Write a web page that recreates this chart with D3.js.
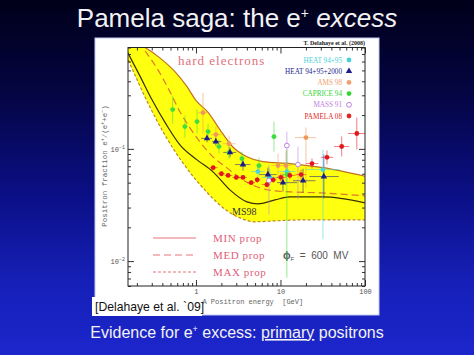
<!DOCTYPE html>
<html><head><meta charset="utf-8">
<script src="https://cdn.jsdelivr.net/npm/d3@7"></script>
<style>html,body{margin:0;padding:0;overflow:hidden;background:#000}</style>
</head><body>
<svg id="c" width="474" height="355"></svg>
<script>
// ---------- data ----------
const xTickMajor = [1, 10, 100];
const xTickLabels = ["1", "10", "100"];
const yTickMajor = [0.01, 0.1];
const yTickLabels = ["−2", "−1"];

// band edges and model curves (E in GeV, positron fraction)
const bandUpperE = [0.15, 0.25, 0.37, 0.56, 0.78, 1.0, 1.4, 1.9, 2.7, 4.0, 6.2, 13, 32, 100];
const bandUpperF = [0.95, 0.80, 0.65, 0.49, 0.36, 0.27, 0.21, 0.15, 0.105, 0.085, 0.077, 0.074, 0.068, 0.057];
const bandLowerE = [0.15, 0.29, 0.45, 0.7, 1.35, 2.2, 3.3, 5, 8.2, 20, 100];
const bandLowerF = [0.68, 0.23, 0.125, 0.075, 0.041, 0.029, 0.0243, 0.0224, 0.0228, 0.0233, 0.0233];
const medE = [0.15, 0.236, 0.355, 0.493, 0.646, 0.849, 1.115, 1.59, 2.33, 3.6, 5.72, 8.6, 12.9, 29.3, 100];
const medF = [1.3, 0.794, 0.506, 0.322, 0.214, 0.154, 0.1155, 0.0849, 0.0677, 0.0529, 0.0449, 0.0422, 0.0414, 0.0405, 0.0381];
const ms98E = [0.15, 0.217, 0.302, 0.441, 0.646, 1.03, 1.59, 2.52, 4.01, 5.41, 8.6, 12.9, 31.8, 100];
const ms98F = [0.762, 0.447, 0.2735, 0.167, 0.1086, 0.0798, 0.0624, 0.0431, 0.0337, 0.0324, 0.0351, 0.0373, 0.0373, 0.033];

// PAMELA 08
const pamE   = [1.6, 2.0, 2.4, 3.0, 3.6, 4.5, 5.3, 6.9, 8.2, 10.1, 12.9, 17.5, 23.6, 35.5, 53, 80];
const pamF   = [0.068, 0.060, 0.058, 0.0556, 0.0556, 0.050, 0.053, 0.048, 0.053, 0.0556, 0.058, 0.059, 0.074, 0.084, 0.105, 0.137];
const pamLo  = [0.0653, 0.0576, 0.0557, 0.0534, 0.0534, 0.048, 0.0499, 0.0452, 0.0499, 0.0512, 0.0535, 0.0532, 0.0668, 0.0728, 0.0856, 0.0987];
const pamHi  = [0.0709, 0.0625, 0.0604, 0.0579, 0.0579, 0.0521, 0.0563, 0.0510, 0.0563, 0.0603, 0.0629, 0.0654, 0.082, 0.097, 0.129, 0.190];
const pamELo = [1.45, 1.8, 2.2, 2.7, 3.3, 4.0, 5.0, 6.0, 7.5, 9.0, 11.5, 15, 20, 30, 43, 63];
const pamEHi = [1.8, 2.2, 2.7, 3.3, 4.0, 5.0, 5.8, 7.5, 9.0, 11.5, 15, 20, 28, 42, 65, 100];

// HEAT 94+95+2000
const heat2E   = [1.35, 1.72, 2.53, 3.6, 7.1, 10.7, 18.5, 32.6];
const heat2F   = [0.124, 0.116, 0.093, 0.0725, 0.059, 0.050, 0.052, 0.0567];
const heat2Lo  = [0.1143, 0.1069, 0.0839, 0.0641, 0.0511, 0.0416, 0.0407, 0.0361];
const heat2Hi  = [0.1345, 0.1259, 0.1030, 0.0820, 0.0681, 0.0602, 0.0665, 0.0890];
const heat2ELo = [1.15, 1.55, 2.1, 2.9, 5.6, 9.1, 14, 22];
const heat2EHi = [1.55, 2.0, 3.0, 4.4, 9.0, 15.7, 26, 49];

// HEAT 94+95
const heat1E   = [5.4, 7.5, 11.9, 31.8];
const heat1F   = [0.0628, 0.0556, 0.0628, 0.0654];
const heat1Lo  = [0.0553, 0.0470, 0.0511, 0.0156];
const heat1Hi  = [0.0713, 0.0658, 0.0772, 0.0984];
const heat1ELo = [4.5, 6.0, 9.5, 20];
const heat1EHi = [6.5, 9.5, 15, 50];

// AMS 98
const amsE   = [1.21, 1.72, 2.46, 9.35, 11.6, 20.0];
const amsF   = [0.210, 0.134, 0.111, 0.071, 0.071, 0.126];
const amsLo  = [0.136, 0.114, 0.0942, 0.0555, 0.0522, 0.0452];
const amsHi  = [0.316, 0.158, 0.131, 0.0908, 0.0966, 0.155];
const amsELo = [1.05, 1.5, 2.05, 8.0, 10.0, 14.8];
const amsEHi = [1.4, 2.0, 2.95, 10.8, 13.5, 26.3];

// CAPRICE 94
const capE   = [0.53, 0.74, 1.03, 1.39, 1.87, 2.46, 3.5, 5.57, 8.38, 11.9];
const capF   = [0.224, 0.158, 0.175, 0.1425, 0.1048, 0.0927, 0.082, 0.071, 0.1285, 0.059];
const capLo  = [0.168, 0.126, 0.137, 0.121, 0.0908, 0.082, 0.0711, 0.0603, 0.0945, 0.0071];
const capHi  = [0.298, 0.198, 0.224, 0.168, 0.121, 0.1048, 0.0946, 0.0836, 0.175, 0.0985];
const capELo = [0.5, 0.7, 0.97, 1.3, 1.75, 2.3, 3.3, 5.2, 7.8, 11];
const capEHi = [0.57, 0.79, 1.1, 1.5, 2.0, 2.65, 3.75, 6.0, 9.0, 13];

// MASS 91
const massE   = [7.3, 11.9, 16.1];
const massF   = [0.0522, 0.107, 0.0725];
const massLo  = [0.026, 0.059, 0.0354];
const massHi  = [0.0725, 0.1426, 0.1048];
const massELo = [7.3, 11.9, 16.1];
const massEHi = [7.3, 11.9, 16.1];

const legendNames = ["HEAT 94+95", "HEAT 94+95+2000", "AMS 98", "CAPRICE 94", "MASS 91", "PAMELA 08"];
const propNames = ["MIN prop", "MED prop", "MAX prop"];

// ---------- drawing ----------
const svg = d3.select("#c");
const defs = svg.append("defs");
const grad = defs.append("linearGradient").attr("id", "bg").attr("x1", 0).attr("y1", 0).attr("x2", 0).attr("y2", 1);
[[0, "#00001a"], [0.25, "#040440"], [0.55, "#0b0f86"], [0.8, "#1620b8"], [1, "#1c26cc"]]
  .forEach(s => grad.append("stop").attr("offset", s[0]).attr("stop-color", s[1]));
svg.append("rect").attr("width", 474).attr("height", 355).attr("fill", "url(#bg)");

const SANS = "Liberation Sans, Arial, sans-serif";
const SERIF = "Liberation Serif, Times New Roman, serif";
const MONO = "Liberation Mono, Courier New, monospace";

// title
const title = svg.append("text").attr("x", 237).attr("y", 27).attr("text-anchor", "middle")
  .attr("fill", "#f2f2f2").style("font-family", SANS).style("font-size", "26px").style("white-space", "pre");
title.append("tspan").text("Pamela saga: the e");
title.append("tspan").attr("dy", -9).style("font-size", "14px").text("+");
title.append("tspan").attr("dy", 9).style("font-style", "italic").text(" excess");

// white panel
svg.append("rect").attr("x", 95).attr("y", 38).attr("width", 284).attr("height", 277)
  .attr("fill", "#fff").attr("stroke", "#c4c8f0").attr("stroke-width", 1);

const L = 128, R = 365, T = 47.5, B = 286;
const x = d3.scaleLog().domain([0.157, 100]).range([L, R]);
const y = d3.scaleLog().domain([0.006, 0.8]).range([B, T]);

defs.append("clipPath").attr("id", "clip").append("rect")
  .attr("x", L).attr("y", T).attr("width", R - L).attr("height", B - T);
const g = svg.append("g").attr("clip-path", "url(#clip)");

const line = d3.line().curve(d3.curveMonotoneX);
const pts = (E, F) => E.map((e, i) => [x(e), y(F[i])]);

// band
const up = pts(bandUpperE, bandUpperF);
const lo = pts(bandLowerE, bandLowerF).reverse();
const loPath = d3.line().curve(d3.curveMonotoneX)(lo);
g.append("path").attr("d", line(up) + loPath.replace(/^M/, "L") + "Z")
  .attr("fill", "#ffff10").attr("stroke", "none");

// curves
g.append("path").attr("d", line(up)).attr("fill", "none").attr("stroke", "#c0721c").attr("stroke-width", 1.2);
g.append("path").attr("d", line(pts(bandLowerE, bandLowerF))).attr("fill", "none")
  .attr("stroke", "#c08a18").attr("stroke-width", 1.2).attr("stroke-dasharray", "3,2");
g.append("path").attr("d", line(pts(medE, medF))).attr("fill", "none")
  .attr("stroke", "#e2762a").attr("stroke-width", 1.2).attr("stroke-dasharray", "7,4");
g.append("path").attr("d", line(pts(ms98E, ms98F))).attr("fill", "none")
  .attr("stroke", "#3a3000").attr("stroke-width", 1.2);

// text inside plot
g.append("text").attr("x", 178).attr("y", 65).attr("fill", "#e0707c")
  .style("font-family", SERIF).style("font-size", "13px").style("letter-spacing", "1px").text("hard electrons");
g.append("text").attr("x", 232).attr("y", 215).attr("fill", "#333")
  .style("font-family", SERIF).style("font-size", "10px").text("MS98");

const phi = g.append("text").attr("x", 283).attr("y", 259).attr("fill", "#555")
  .style("font-family", SANS).style("font-size", "10px").style("white-space", "pre");
phi.append("tspan").style("font-weight", "bold").text("ϕ");
phi.append("tspan").attr("dy", 2).style("font-size", "6px").text("F");
phi.append("tspan").attr("dy", -2).text("  =  600  MV");

// prop legend
const propDash = [null, "7,4", "3,2"];
propNames.forEach((n, i) => {
  const yy = 238 + i * 17;
  g.append("line").attr("x1", 153).attr("x2", 196).attr("y1", yy).attr("y2", yy)
    .attr("stroke", "#e8707c").attr("stroke-width", 1).attr("stroke-dasharray", propDash[i]);
  g.append("text").attr("x", 213).attr("y", yy + 4).attr("fill", "#e0607a")
    .style("font-family", SERIF).style("font-size", "11px").style("letter-spacing", "0.6px").text(n);
});

// data series
const series = [
  {E: heat1E, F: heat1F, lo: heat1Lo, hi: heat1Hi, eL: heat1ELo, eH: heat1EHi, col: "#48d4e0", sym: "circle"},
  {E: massE, F: massF, lo: massLo, hi: massHi, eL: massELo, eH: massEHi, col: "#c07ee0", sym: "open"},
  {E: amsE, F: amsF, lo: amsLo, hi: amsHi, eL: amsELo, eH: amsEHi, col: "#f0985a", sym: "circle"},
  {E: capE, F: capF, lo: capLo, hi: capHi, eL: capELo, eH: capEHi, col: "#3ede3e", sym: "circle"},
  {E: heat2E, F: heat2F, lo: heat2Lo, hi: heat2Hi, eL: heat2ELo, eH: heat2EHi, col: "#1c1c8c", sym: "tri"},
  {E: pamE, F: pamF, lo: pamLo, hi: pamHi, eL: pamELo, eH: pamEHi, col: "#e2161e", sym: "circle"}
];
series.forEach(s => {
  const eg = g.append("g").attr("stroke", s.col).attr("stroke-width", 1).attr("opacity", 0.55);
  s.E.forEach((e, i) => {
    eg.append("line").attr("x1", x(e)).attr("x2", x(e)).attr("y1", y(s.lo[i])).attr("y2", y(s.hi[i]));
    eg.append("line").attr("x1", x(s.eL[i])).attr("x2", x(s.eH[i])).attr("y1", y(s.F[i])).attr("y2", y(s.F[i]));
  });
});
const drawSym = (sel, sym, col, cx, cy) => {
  if (sym === "tri") {
    sel.append("path").attr("d", d3.symbol().type(d3.symbolTriangle).size(18)())
      .attr("transform", `translate(${cx},${cy})`).attr("fill", col);
  } else if (sym === "open") {
    sel.append("circle").attr("cx", cx).attr("cy", cy).attr("r", 2.4).attr("fill", "#fff").attr("stroke", col).attr("stroke-width", 1);
  } else {
    sel.append("circle").attr("cx", cx).attr("cy", cy).attr("r", 2.4).attr("fill", col);
  }
};
series.forEach(s => s.E.forEach((e, i) => drawSym(g, s.sym, s.col, x(e), y(s.F[i]))));

// data legend (top right)
const legCols = ["#48d0d8", "#1c1c8c", "#f0a070", "#34d434", "#c07ee0", "#e02828"];
const legSyms = ["circle", "tri", "circle", "circle", "open", "circle"];
legendNames.forEach((n, i) => {
  const yy = 60 + i * 11.2;
  g.append("text").attr("x", 342).attr("y", yy + 2.5).attr("text-anchor", "end").attr("fill", legCols[i])
    .style("font-family", SERIF).style("font-size", "7.2px").text(n);
  drawSym(g, legSyms[i], legCols[i], 349, yy);
});
svg.append("text").attr("x", 365).attr("y", 45).attr("text-anchor", "end").attr("fill", "#222")
  .style("font-family", SERIF).style("font-size", "6px").style("font-weight", "bold").text("T. Delahaye et al. (2008)");

// axes (inward ticks)
const minorX = [];
[0.1, 1, 10].forEach(d => { for (let k = 2; k <= 9; k++) { const v = d * k; if (v >= 0.157 && v < 100) minorX.push(v); } });
const minorY = [];
[0.001, 0.01, 0.1].forEach(d => { for (let k = 2; k <= 9; k++) { const v = d * k; if (v >= 0.006 && v <= 0.8) minorY.push(v); } });

const axStyle = sel => { sel.select(".domain").remove(); sel.selectAll("line").attr("stroke", "#333"); sel.selectAll("text").attr("fill", "#555").style("font-family", MONO).style("font-size", "7px"); };

svg.append("g").attr("transform", `translate(0,${B})`)
  .call(d3.axisBottom(x).tickValues(xTickMajor).tickSize(-6).tickPadding(3).tickFormat((d, i) => xTickLabels[i])).call(axStyle);
svg.append("g").attr("transform", `translate(0,${B})`)
  .call(d3.axisBottom(x).tickValues(minorX).tickSize(-3).tickFormat("")).call(axStyle);
svg.append("g").attr("transform", `translate(0,${T})`)
  .call(d3.axisTop(x).tickValues(xTickMajor).tickSize(-6).tickFormat("")).call(axStyle);
svg.append("g").attr("transform", `translate(0,${T})`)
  .call(d3.axisTop(x).tickValues(minorX).tickSize(-3).tickFormat("")).call(axStyle);

const yl = svg.append("g").attr("transform", `translate(${L},0)`)
  .call(d3.axisLeft(y).tickValues(yTickMajor).tickSize(-6).tickPadding(3).tickFormat("")).call(axStyle);
yl.selectAll(".tick text").each(function(d, i) {
  const t = d3.select(this);
  t.append("tspan").text("10");
  t.append("tspan").attr("dy", -3).style("font-size", "5px").text(yTickLabels[i]);
});
svg.append("g").attr("transform", `translate(${L},0)`)
  .call(d3.axisLeft(y).tickValues(minorY).tickSize(-3).tickFormat("")).call(axStyle);
svg.append("g").attr("transform", `translate(${R},0)`)
  .call(d3.axisRight(y).tickValues(yTickMajor).tickSize(-6).tickFormat("")).call(axStyle);
svg.append("g").attr("transform", `translate(${R},0)`)
  .call(d3.axisRight(y).tickValues(minorY).tickSize(-3).tickFormat("")).call(axStyle);

svg.append("rect").attr("x", L).attr("y", T).attr("width", R - L).attr("height", B - T)
  .attr("fill", "none").attr("stroke", "#222").attr("stroke-width", 1);

// axis titles
svg.append("text").attr("x", 194).attr("y", 304).attr("fill", "#666").style("font-family", MONO)
  .style("font-size", "7px").style("white-space", "pre").text("TOA Positron energy  [GeV]");
const yt = svg.append("text").attr("transform", "translate(107,166) rotate(-90)").attr("text-anchor", "middle")
  .attr("fill", "#666").style("font-family", MONO).style("font-size", "7.5px");
yt.append("tspan").text("Positron fraction e");
yt.append("tspan").attr("dy", -3).style("font-size", "5px").text("+");
yt.append("tspan").attr("dy", 3).text("/(e");
yt.append("tspan").attr("dy", -3).style("font-size", "5px").text("+");
yt.append("tspan").attr("dy", 3).text("+e");
yt.append("tspan").attr("dy", -3).style("font-size", "5px").text("−");
yt.append("tspan").attr("dy", 3).text(")");

// citation
svg.append("rect").attr("x", 92).attr("y", 297).attr("width", 110).attr("height", 19).attr("fill", "#fff");
svg.append("text").attr("x", 95).attr("y", 311).attr("fill", "#111").style("font-family", SANS)
  .style("font-size", "12.2px").text("[Delahaye et al. `09]");

// bottom caption
const bt = svg.append("text").attr("x", 237).attr("y", 338).attr("text-anchor", "middle").attr("fill", "#f2f2f2")
  .style("font-family", SANS).style("font-size", "16px").style("white-space", "pre");
bt.append("tspan").text("Evidence for e");
bt.append("tspan").attr("dy", -6).style("font-size", "9px").text("+");
bt.append("tspan").attr("dy", 6).text(" excess: ");
bt.append("tspan").style("text-decoration", "underline").text("primary");
bt.append("tspan").text(" positrons");
</script>
</body></html>
